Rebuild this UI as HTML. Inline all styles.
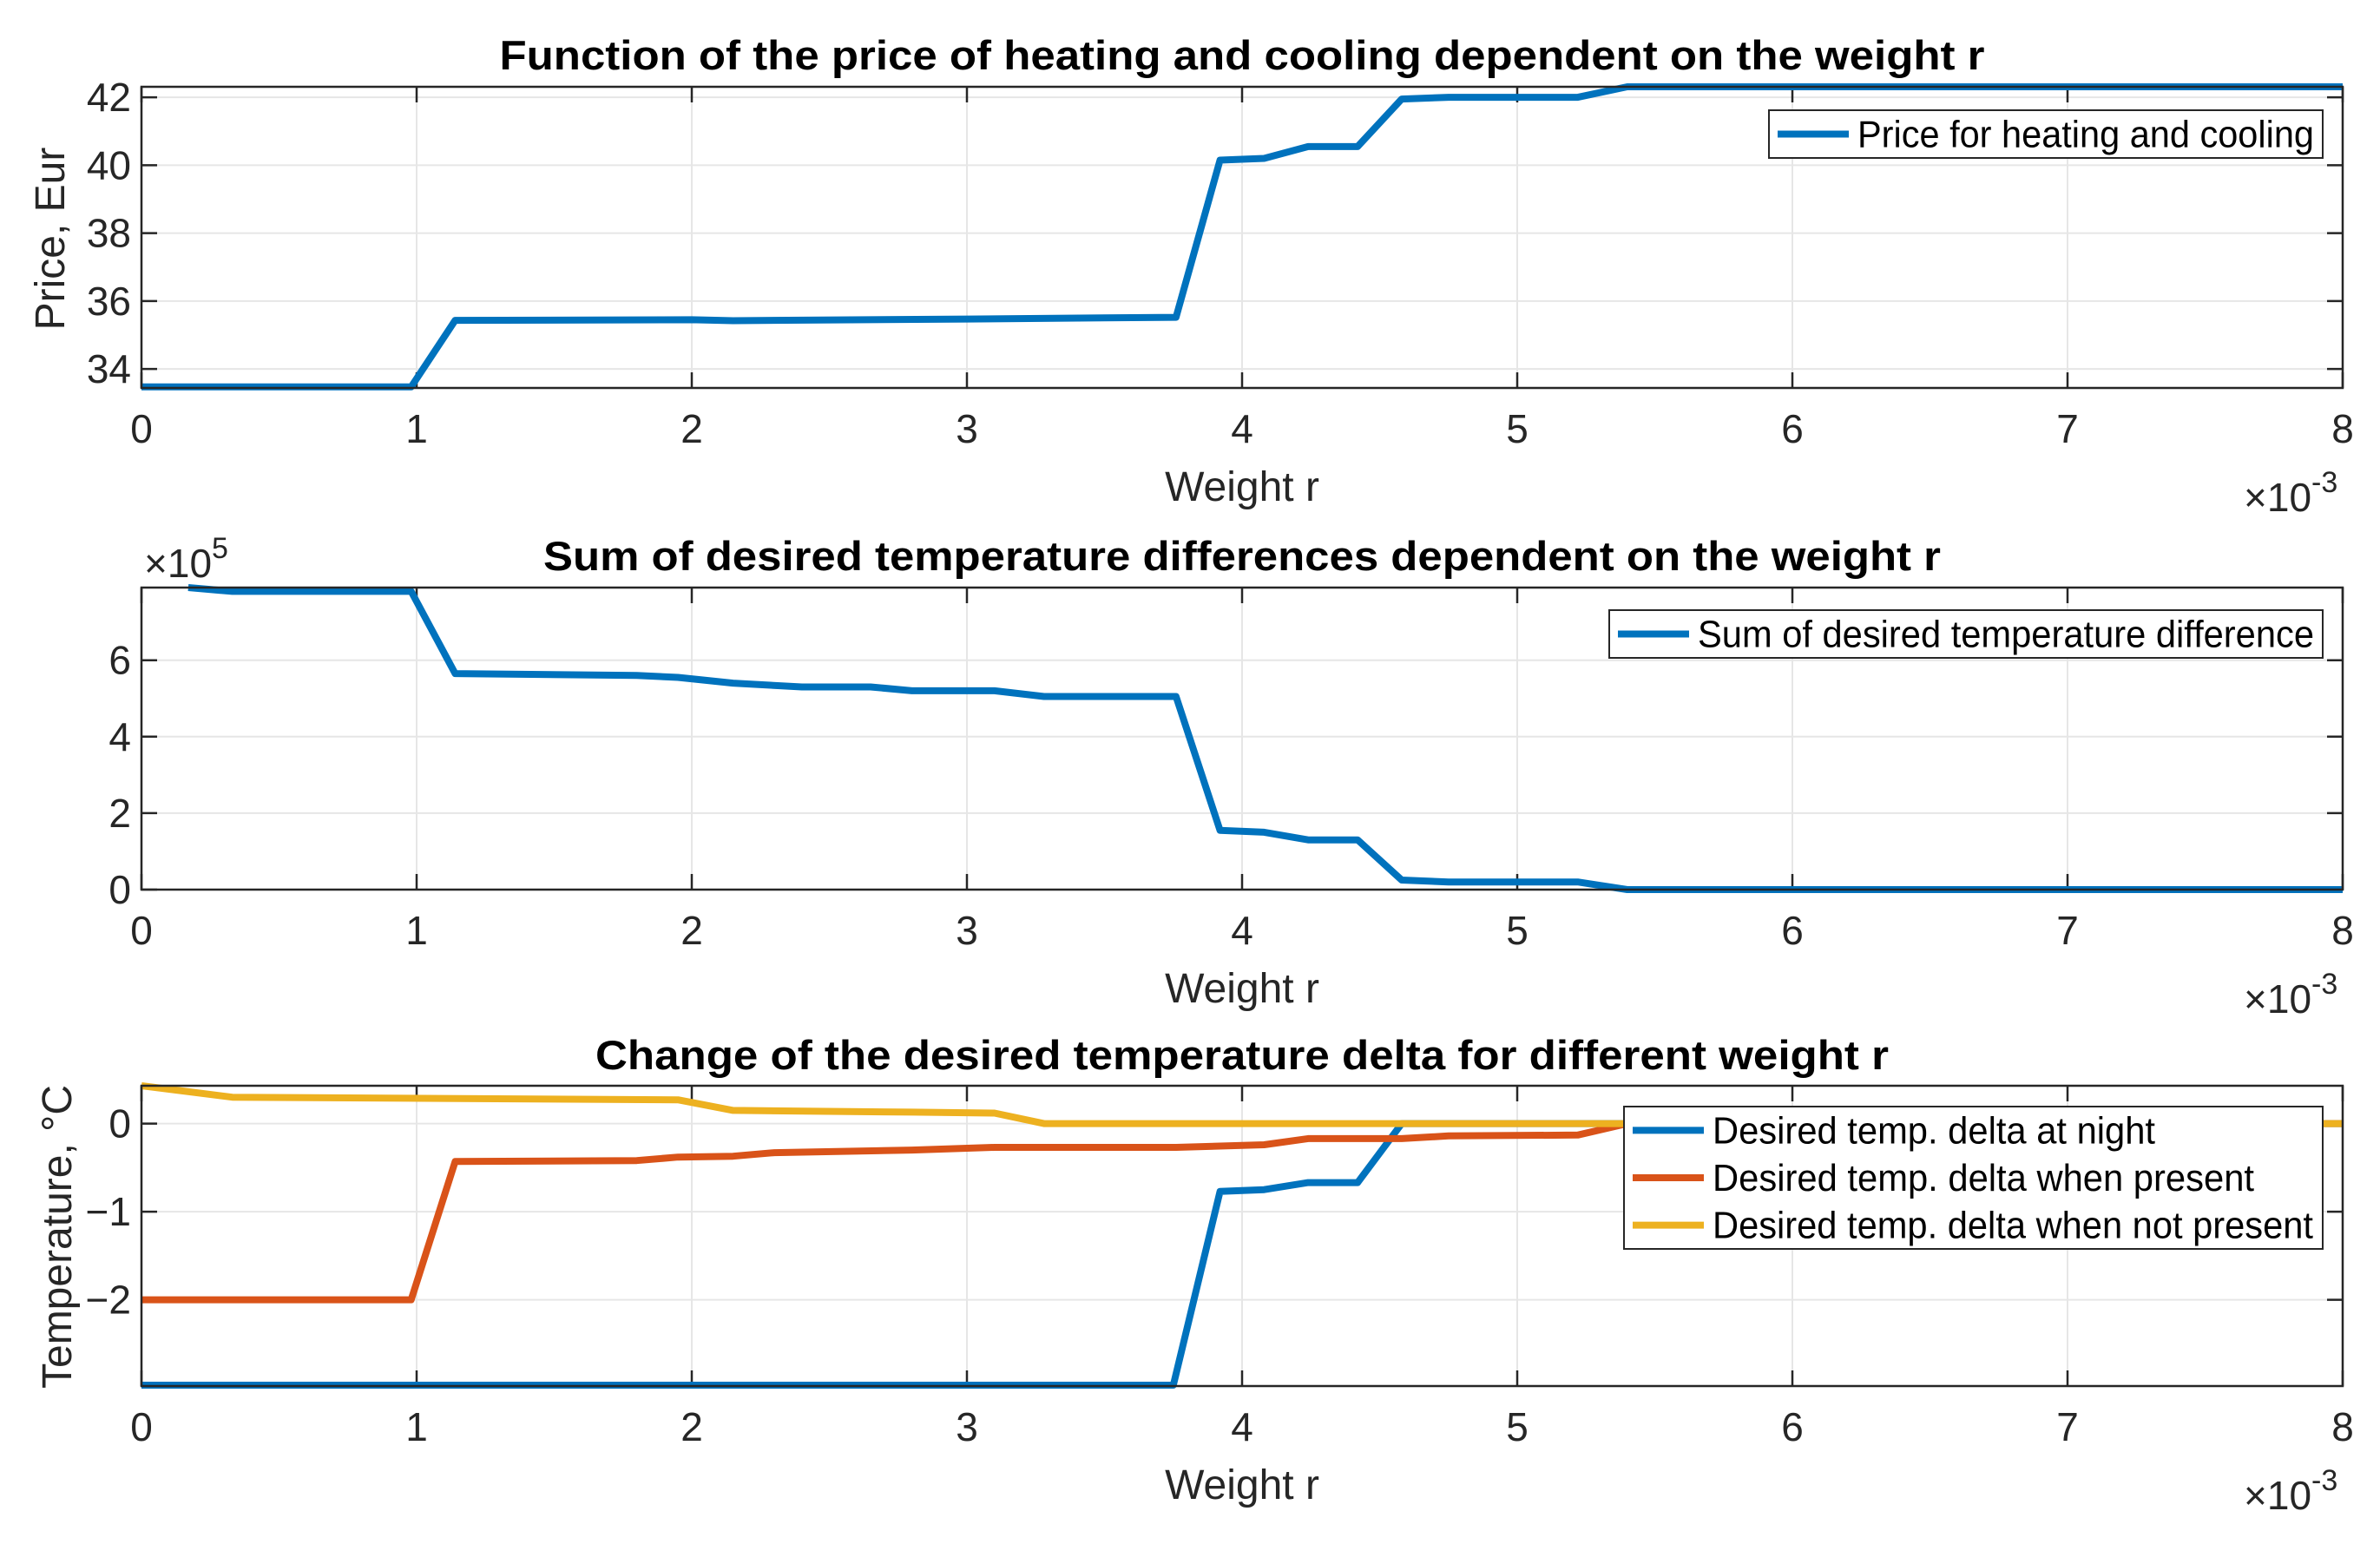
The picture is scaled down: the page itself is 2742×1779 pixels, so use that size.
<!DOCTYPE html>
<html><head><meta charset="utf-8"><style>
html,body{margin:0;padding:0;background:#fff;}
svg{display:block;font-family:"Liberation Sans",Arial,sans-serif;}
</style></head><body>
<svg id="fig" width="2742" height="1779" viewBox="0 0 2742 1779" xmlns="http://www.w3.org/2000/svg"></svg>
<script>
const xTicks=[0,1,2,3,4,5,6,7,8];
// panel 1
const p1X=[0,0.98,1.14,2,2.15,3,3.76,3.92,4.08,4.24,4.42,4.58,4.75,5.22,5.4,8];
const p1Y=[33.47,33.47,35.43,35.45,35.42,35.47,35.52,40.15,40.2,40.55,40.55,41.95,42.0,42.0,42.31,42.31];
const p1Ticks=[34,36,38,40,42];
// panel 2 (x1e5)
const p2X=[0.17,0.33,0.98,1.14,1.8,1.95,2.15,2.4,2.65,2.8,3.1,3.28,3.76,3.92,4.08,4.24,4.42,4.58,4.75,5.22,5.4,8];
const p2Y=[7.9,7.8,7.8,5.65,5.6,5.55,5.4,5.3,5.3,5.2,5.2,5.05,5.05,1.55,1.5,1.3,1.3,0.25,0.2,0.2,0,0];
const p2Ticks=[0,2,4,6];
// panel 3
const nightX=[0,3.75,3.92,4.08,4.24,4.42,4.58,8];
const nightY=[-2.97,-2.97,-0.77,-0.75,-0.67,-0.67,0,0];
const presX=[0,0.98,1.14,1.8,1.95,2.15,2.3,2.8,3.1,3.76,4.08,4.24,4.58,4.75,5.22,5.4,8];
const presY=[-2,-2,-0.43,-0.42,-0.38,-0.37,-0.33,-0.3,-0.27,-0.27,-0.24,-0.17,-0.17,-0.14,-0.13,0,0];
const notX=[0,0.33,1.95,2.15,2.8,3.1,3.28,8];
const notY=[0.43,0.3,0.27,0.15,0.13,0.12,0,0];
const p3Ticks=[-2,-1,0];

const NS="http://www.w3.org/2000/svg";
const svg=document.getElementById('fig');
function el(tag,attrs,parent){const e=document.createElementNS(NS,tag);for(const k in attrs)e.setAttribute(k,attrs[k]);(parent||svg).appendChild(e);return e;}
const L=163,R=2699;
function panel(cfg){
  const g=el('g',{});
  
  
  const sx=v=>L+(v-0)/8*(R-L);
  const sy=v=>cfg.bot-(v-cfg.ymin)/(cfg.ymax-cfg.ymin)*(cfg.bot-cfg.top);
  xTicks.forEach(t=>{const l=el('line',{x1:sx(t),x2:sx(t),y1:cfg.top,y2:cfg.bot,stroke:'#e6e6e6','stroke-width':2},g);
    });
  cfg.yt.forEach(t=>{const l=el('line',{x1:L,x2:R,y1:sy(t),y2:sy(t),stroke:'#e6e6e6','stroke-width':2},g);
    });
  xTicks.forEach(t=>{
    el('line',{x1:sx(t),x2:sx(t),y1:cfg.bot,y2:cfg.bot-18,stroke:'#262626','stroke-width':2.5},g);
    el('line',{x1:sx(t),x2:sx(t),y1:cfg.top,y2:cfg.top+18,stroke:'#262626','stroke-width':2.5},g);
    const tx=el('text',{x:sx(t),y:cfg.bot+63,'font-size':46,fill:'#262626','text-anchor':'middle'},g);
    tx.textContent=t;
    
  });
  cfg.yt.forEach(t=>{
    el('line',{x1:L,x2:L+18,y1:sy(t),y2:sy(t),stroke:'#262626','stroke-width':2.5},g);
    el('line',{x1:R,x2:R-18,y1:sy(t),y2:sy(t),stroke:'#262626','stroke-width':2.5},g);
    const tx=el('text',{x:L-12,y:sy(t)+16,'font-size':46,fill:'#262626','text-anchor':'end'},g);
    tx.textContent=(t<0?'\u2212'+(-t):t);
    
  });
  cfg.series.forEach(s=>{
    const d=s.x.map((v,i)=>(i?'L':'M')+sx(v).toFixed(1)+','+sy(s.y[i]).toFixed(1)).join(' ');
    const p=el('path',{d:d,fill:'none',stroke:s.c,'stroke-width':8,'stroke-linejoin':'round'},g);
    
  });
  const b=el('rect',{x:L,y:cfg.top,width:R-L,height:cfg.bot-cfg.top,fill:'none',stroke:'#262626','stroke-width':2.5},g);
  
  const ti=el('text',{x:(L+R)/2,y:cfg.titleY,'font-size':47,'font-weight':'bold',fill:'#000','text-anchor':'middle',textLength:cfg.titleW,lengthAdjust:'spacingAndGlyphs'},g);
  ti.textContent=cfg.title;
  
  const xl=el('text',{x:(L+R)/2,y:cfg.bot+130,'font-size':48,fill:'#262626','text-anchor':'middle'},g);
  xl.textContent='Weight r';
  
  const ex=el('text',{x:2585,y:cfg.bot+142,'font-size':46,fill:'#262626'},g);
  ex.innerHTML='×10<tspan dy="-22" font-size="34">-3</tspan>';
  
  const lg=el('g',{},g);
  
  el('rect',{x:cfg.lx,y:cfg.ly,width:2676-cfg.lx,height:cfg.lh,fill:'#fff',stroke:'#262626','stroke-width':2},lg);
  cfg.series.forEach((s,i)=>{
    const yy=cfg.ly+cfg.lh/cfg.series.length*(i+0.5);
    el('line',{x1:cfg.lx+10,x2:cfg.lx+92,y1:yy,y2:yy,stroke:s.c,'stroke-width':8},lg);
    const t=el('text',{x:cfg.lx+102,y:yy+15,'font-size':44,fill:'#000',textLength:s.tw,lengthAdjust:'spacingAndGlyphs'},lg);
    t.textContent=s.label;
    
  });
  return {sx,sy,g};
}
panel({name:'price-panel',top:100,bot:447,ymin:33.44,ymax:42.31,yt:p1Ticks,titleY:80,titleW:1711,
  title:'Function of the price of heating and cooling dependent on the weight r',
  lx:2038,ly:127,lh:55,
  series:[{x:p1X,y:p1Y,c:'#0072BD',name:'price-line',label:'Price for heating and cooling',tw:526}]});
panel({name:'difference-panel',top:677,bot:1025,ymin:0,ymax:7.9,yt:p2Ticks,titleY:657,titleW:1610,
  title:'Sum of desired temperature differences dependent on the weight r',
  lx:1854,ly:703,lh:55,
  series:[{x:p2X,y:p2Y,c:'#0072BD',name:'difference-line',label:'Sum of desired temperature difference',tw:710}]});
panel({name:'delta-panel',top:1251,bot:1597,ymin:-2.98,ymax:0.43,yt:p3Ticks,titleY:1232,titleW:1490,
  title:'Change of the desired temperature delta for different weight r',
  lx:1871,ly:1275,lh:164,
  series:[{x:nightX,y:nightY,c:'#0072BD',name:'night-line',label:'Desired temp. delta at night',tw:510},
          {x:presX,y:presY,c:'#D95319',name:'present-line',label:'Desired temp. delta when present',tw:624},
          {x:notX,y:notY,c:'#EDB120',name:'not-present-line',label:'Desired temp. delta when not present',tw:692}]});
function ylab(txt,x,y,name){const t=el('text',{x:x,y:y,'font-size':48,fill:'#262626','text-anchor':'middle',transform:'rotate(-90 '+x+' '+y+')'});
  t.textContent=txt;}
ylab('Price, Eur',74,275,'y-axis-title-price');
ylab('Temperature, °C',82,1425,'y-axis-title-temperature');
const e5=el('text',{x:166,y:665,'font-size':46,fill:'#262626'});
e5.innerHTML='×10<tspan dy="-22" font-size="34">5</tspan>';


</script>
</body></html>
